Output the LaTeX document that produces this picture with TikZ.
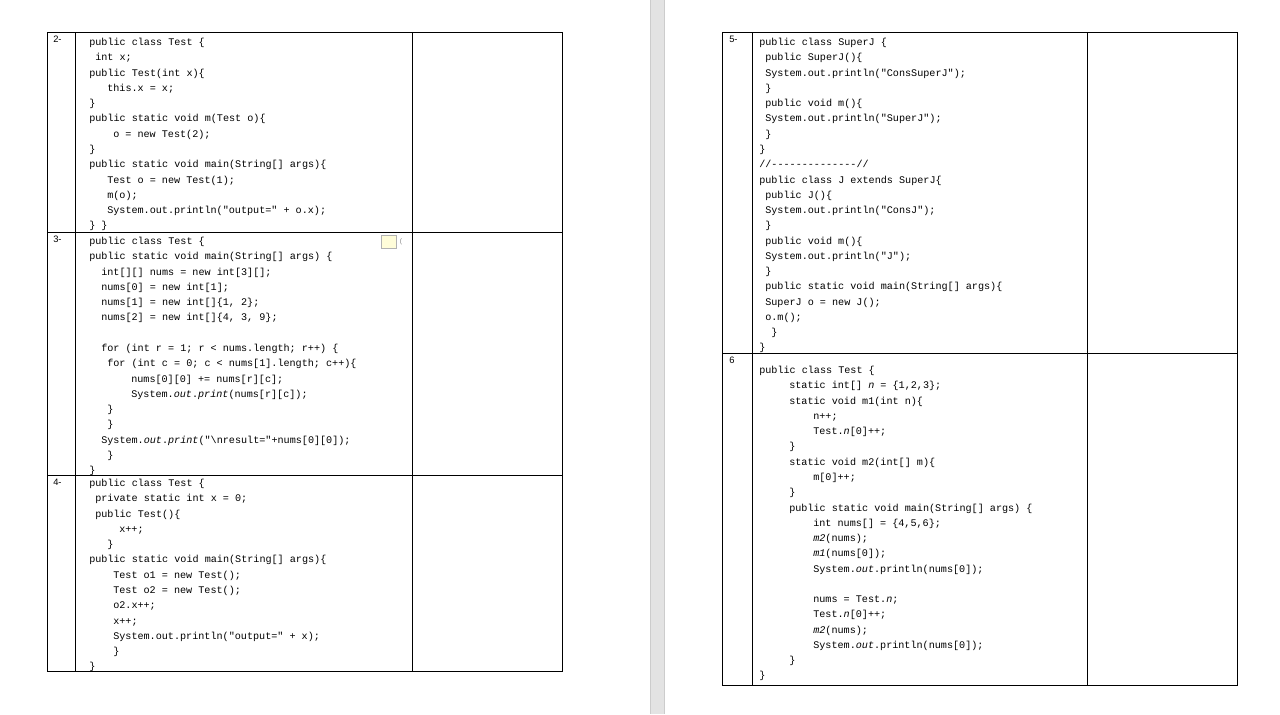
\documentclass[tikz,border=0pt]{standalone}
\usepackage{fontspec}
\setmonofont{Liberation Mono}
\newfontfamily\labfont{Liberation Sans}
\newcommand{\ind}[1]{\hspace*{#1\dimexpr 4.5pt\relax}}
\begin{document}
\begin{tikzpicture}[x=0.75pt,y=-0.75pt,
  tbl/.style={draw=black,line width=0.6pt},
  code/.style={anchor=north west,inner sep=0pt,align=left,font=\ttfamily\fontsize{7.6pt}{11.45pt}\selectfont},
  lab/.style={anchor=north west,inner sep=0pt,font=\labfont\fontsize{7pt}{8pt}\selectfont}]
\useasboundingbox (0,0) rectangle (1280,714);
\fill[white] (0,0) rectangle (1280,714);
\fill[gray!22] (650,0) rectangle (664,714);
\draw[gray!40] (650,0) -- (650,714) (664,0) -- (664,714);
% left table
\draw[tbl] (47,32) rectangle (562,671);
\draw[tbl] (75,32) -- (75,671) (412,32) -- (412,671);
\draw[tbl] (47,232) -- (562,232) (47,475) -- (562,475);
% right table
\draw[tbl] (722,32) rectangle (1237,685);
\draw[tbl] (752,32) -- (752,685) (1087,32) -- (1087,685);
\draw[tbl] (722,353) -- (1237,353);
% labels
\node[lab] (l2) at (53,36) {2-};
\node[lab] (l3) at (53,236) {3-};
\node[lab] (l4) at (53,479) {4-};
\node[lab] (l5) at (729,36) {5-};
\node[lab] (l6) at (729,357) {6};
% icon
\node[draw=gray!60,fill=yellow!15,minimum width=11pt,minimum height=10pt,inner sep=0pt] (icon) at (389,242) {};
\node[font=\labfont\fontsize{5pt}{5pt}\selectfont,text=gray,inner sep=0pt] (iconc) at (401,242) {(};
% box 2
\node[code] (c2) at (89,38) {public class Test \{\\
\ind{1}int x;\\
public Test(int x)\{\\
\ind{3}this.x = x;\\
\}\\
public static void m(Test o)\{\\
\ind{4}o = new Test(2);\\
\}\\
public static void main(String[] args)\{\\
\ind{3}Test o = new Test(1);\\
\ind{3}m(o);\\
\ind{3}System.out.println("output=" + o.x);\\
\} \}};
% box 3
\node[code] (c3) at (89,237) {public class Test \{\\
public static void main(String[] args) \{\\
\ind{2}int[][] nums = new int[3][];\\
\ind{2}nums[0] = new int[1];\\
\ind{2}nums[1] = new int[]\{1, 2\};\\
\ind{2}nums[2] = new int[]\{4, 3, 9\};\\
\mbox{}\\
\ind{2}for (int r = 1; r < nums.length; r++) \{\\
\ind{3}for (int c = 0; c < nums[1].length; c++)\{\\
\ind{7}nums[0][0] += nums[r][c];\\
\ind{7}System.\textit{out}.\textit{print}(nums[r][c]);\\
\ind{3}\}\\
\ind{3}\}\\
\ind{2}System.\textit{out}.\textit{print}("\textbackslash nresult="+nums[0][0]);\\
\ind{3}\}\\
\}};
% box 4
\node[code] (c4) at (89,479) {public class Test \{\\
\ind{1}private static int x = 0;\\
\ind{1}public Test()\{\\
\ind{5}x++;\\
\ind{3}\}\\
public static void main(String[] args)\{\\
\ind{4}Test o1 = new Test();\\
\ind{4}Test o2 = new Test();\\
\ind{4}o2.x++;\\
\ind{4}x++;\\
\ind{4}System.out.println("output=" + x);\\
\ind{4}\}\\
\}};
% box 5
\node[code] (c5) at (759,38) {public class SuperJ \{\\
\ind{1}public SuperJ()\{\\
\ind{1}System.out.println("ConsSuperJ");\\
\ind{1}\}\\
\ind{1}public void m()\{\\
\ind{1}System.out.println("SuperJ");\\
\ind{1}\}\\
\}\\
//--------------//\\
public class J extends SuperJ\{\\
\ind{1}public J()\{\\
\ind{1}System.out.println("ConsJ");\\
\ind{1}\}\\
\ind{1}public void m()\{\\
\ind{1}System.out.println("J");\\
\ind{1}\}\\
\ind{1}public static void main(String[] args)\{\\
\ind{1}SuperJ o = new J();\\
\ind{1}o.m();\\
\ind{1}\ind{1}\}\\
\}};
% box 6
\node[code] (c6) at (759,366) {public class Test \{\\
\ind{5}static int[] \textit{n} = \{1,2,3\};\\
\ind{5}static void m1(int n)\{\\
\ind{9}n++;\\
\ind{9}Test.\textit{n}[0]++;\\
\ind{5}\}\\
\ind{5}static void m2(int[] m)\{\\
\ind{9}m[0]++;\\
\ind{5}\}\\
\ind{5}public static void main(String[] args) \{\\
\ind{9}int nums[] = \{4,5,6\};\\
\ind{9}\textit{m2}(nums);\\
\ind{9}\textit{m1}(nums[0]);\\
\ind{9}System.\textit{out}.println(nums[0]);\\
\mbox{}\\
\ind{9}nums = Test.\textit{n};\\
\ind{9}Test.\textit{n}[0]++;\\
\ind{9}\textit{m2}(nums);\\
\ind{9}System.\textit{out}.println(nums[0]);\\
\ind{5}\}\\
\}};
\end{tikzpicture}
\end{document}
